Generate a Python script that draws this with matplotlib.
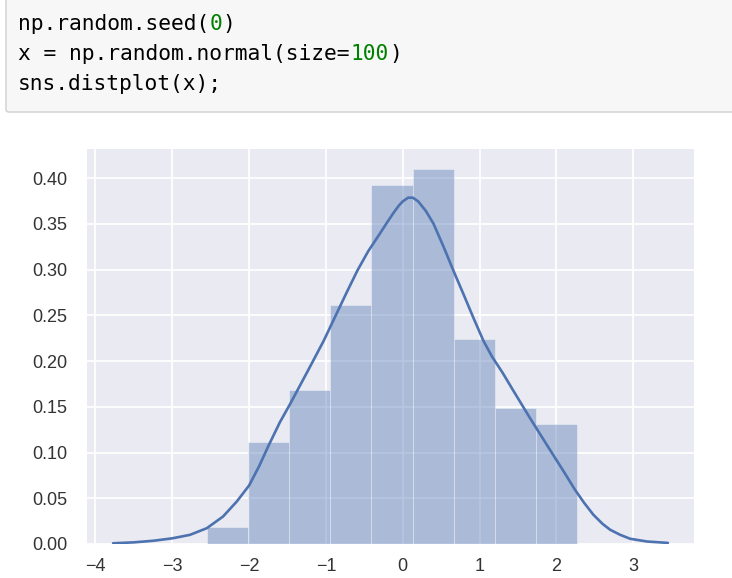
import numpy as np
import matplotlib
matplotlib.use("Agg")
import matplotlib.pyplot as plt
from matplotlib.patches import FancyBboxPatch
import seaborn as sns

# histogram (density, 9 bins)
bin_edges = [-2.553, -2.017, -1.481, -0.945, -0.409, 0.127, 0.663, 1.199, 1.735, 2.270]
bin_heights = [0.0187, 0.112, 0.168, 0.261, 0.392, 0.410, 0.224, 0.149, 0.131]

# kde curve
kde_x = [-3.77, -3.5, -3.25, -3.0, -2.77, -2.55, -2.34, -2.16, -2.0, -1.87,
         -1.75, -1.60, -1.47, -1.25, -1.03, -0.90, -0.73, -0.59, -0.45, -0.30,
         -0.20, -0.12, -0.05, 0.0, 0.07, 0.13, 0.20, 0.30, 0.40, 0.53,
         0.66, 0.79, 0.92, 1.05, 1.16, 1.30, 1.45, 1.66, 1.81, 1.96,
         2.10, 2.24, 2.36, 2.48, 2.60, 2.70, 2.83, 2.96, 3.18, 3.45]
kde_y = [0.0008, 0.0018, 0.0035, 0.0062, 0.0100, 0.0173, 0.0300, 0.0465, 0.0640, 0.0850,
         0.1070, 0.1330, 0.1525, 0.1870, 0.2220, 0.2450, 0.2750, 0.2990, 0.3200, 0.3390,
         0.3520, 0.3620, 0.3700, 0.3745, 0.3785, 0.3785, 0.3745, 0.3640, 0.3500, 0.3250,
         0.2985, 0.2730, 0.2470, 0.2220, 0.2050, 0.1870, 0.1660, 0.1370, 0.1170, 0.0970,
         0.0785, 0.0594, 0.0450, 0.0320, 0.0220, 0.0155, 0.0100, 0.0057, 0.0027, 0.0012]

x_ticks = [-4, -3, -2, -1, 0, 1, 2, 3]
y_ticks = [0.00, 0.05, 0.10, 0.15, 0.20, 0.25, 0.30, 0.35, 0.40]

code_lines = [
    [("np.random.seed(", "black"), ("0", "#008000"), (")", "black")],
    [("x = np.random.normal(size=", "black"), ("100", "#008000"), (")", "black")],
    [("sns.distplot(x);", "black")],
]

sns.set_style("darkgrid")
plt.rcParams['font.family'] = ['Liberation Sans', 'DejaVu Sans']

W, H = 732, 578
fig = plt.figure(figsize=(W / 100, H / 100), dpi=100)

# notebook code cell
box = FancyBboxPatch((6 / W, 1 - 112 / H), (W + 20) / W, 130 / H,
                     boxstyle="round,pad=0,rounding_size=0.004",
                     transform=fig.transFigure, facecolor="#f7f7f7",
                     edgecolor="#cfcfcf", linewidth=1.0, zorder=0)
fig.patches.append(box)

char_w = 12.8
line_y = [24, 54, 84]
for row, ly in zip(code_lines, line_y):
    cx = 18
    for txt, col in row:
        fig.text(cx / W, 1 - ly / H, txt, color=col, family="DejaVu Sans Mono",
                 fontsize=15.3, va="center", ha="left")
        cx += len(txt) * char_w

# chart
ax = fig.add_axes([87 / W, 1 - 544 / H, (694 - 87) / W, (544 - 149) / H])
ax.set_facecolor("#EAEAF2")
widths = np.diff(bin_edges)
ax.bar(bin_edges[:-1], bin_heights, width=widths, align="edge",
       color="#4C72B0", alpha=0.4, edgecolor="white", linewidth=0.6)
ax.plot(kde_x, kde_y, color="#4C72B0", linewidth=1.9)

ax.set_xlim(-4.11, 3.79)
ax.set_ylim(0, 0.4317)
ax.set_xticks(x_ticks)
ax.set_yticks(y_ticks)
ax.set_yticklabels(["%.2f" % v for v in y_ticks])
ax.grid(True, color="white", linewidth=1.3)
ax.set_axisbelow(True)
for s in ax.spines.values():
    s.set_visible(False)
ax.tick_params(axis="both", length=0, labelsize=13, labelcolor="#333333")
ax.tick_params(axis="x", pad=10)
ax.tick_params(axis="y", pad=14)

fig.savefig("out.png", dpi=100)
